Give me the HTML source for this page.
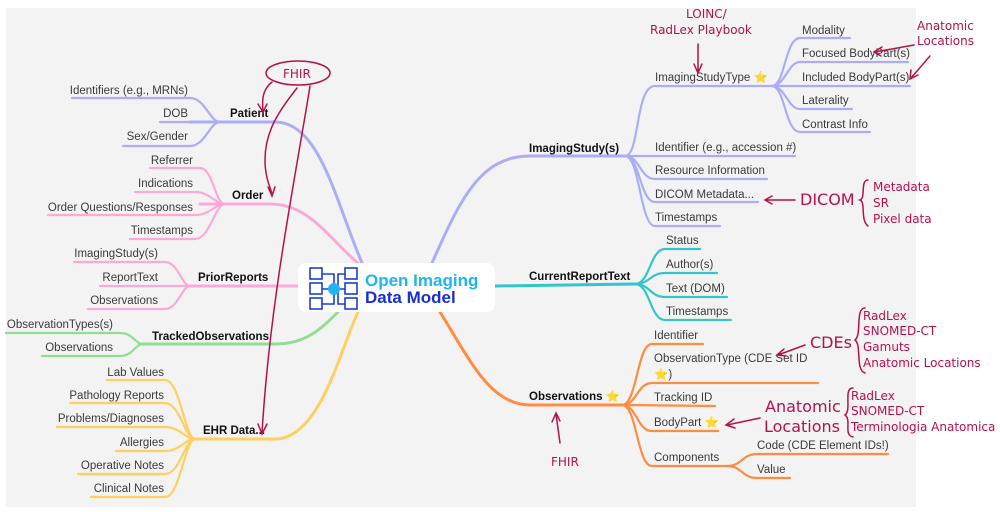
<!DOCTYPE html>
<html><head><meta charset="utf-8"><style>
html,body{margin:0;padding:0;background:#fff;}
svg{display:block;}
text{font-family:"Liberation Sans","DejaVu Sans",sans-serif;font-size:11.5px;fill:#3a3a3a;}
.b{font-weight:bold;fill:#111;}
.r{text-anchor:end;}
.h{font-family:"DejaVu Sans","Liberation Sans",sans-serif;fill:#b5114f;font-size:12px;}
path{fill:none;stroke-linecap:round;}
.pu{stroke:#adadf7;stroke-width:2.2}
.pk{stroke:#fbaad8;stroke-width:2.2}
.gr{stroke:#93dc93;stroke-width:2.2}
.ye{stroke:#ffcf60;stroke-width:2.2}
.cy{stroke:#33c5c9;stroke-width:2.2}
.or{stroke:#ff8c42;stroke-width:2.2}
.an{stroke:#b5114f;stroke-width:1.5}
</style></head><body>
<svg width="1000" height="512" viewBox="0 0 1000 512">
<rect x="6" y="8" width="910" height="499" fill="#f3f3f3"/>

<path class="pu" d="M190,122 L275,122 C320,122 335,200 362,263" style="stroke-width:3"/>
<path class="pk" d="M200,204 L270,204 C310,204 330,240 358,263" style="stroke-width:3"/>
<path class="pk" d="M190,286 L298,286" style="stroke-width:3"/>
<path class="gr" d="M143,344 L275,344 C305,344 320,330 338,312" style="stroke-width:3"/>
<path class="ye" d="M195,439 L275,439 C320,439 340,350 358,312" style="stroke-width:3"/>
<path class="pu" d="M432,263 C460,200 480,156 530,156 L625,156" style="stroke-width:3"/>
<path class="cy" d="M495,286 L635,284" style="stroke-width:3"/>
<path class="or" d="M440,312 C470,360 490,405 530,405 L622,405" style="stroke-width:3"/>

<path class="pu" d="M72,98 L190,98 C205,98 210,122 220,122"/>
<path class="pu" d="M160,122 L220,122"/>
<path class="pu" d="M123,146 L190,146 C205,146 210,122 220,122"/>
<path class="pk" d="M150,168 L200,168 C213,168 215,204 225,204"/>
<path class="pk" d="M135,192 L195,192 C210,192 215,204 225,204"/>
<path class="pk" d="M48,215 L195,215 C210,215 215,204 225,204"/>
<path class="pk" d="M130,239 L195,239 C210,239 215,204 225,204"/>
<path class="pk" d="M74,262 L165,262 C178,262 182,286 190,286"/>
<path class="pk" d="M100,286 L190,286"/>
<path class="pk" d="M88,309 L165,309 C178,309 182,286 190,286"/>
<path class="gr" d="M6,333 L120,333 C133,333 135,344 143,344"/>
<path class="gr" d="M42,356 L120,356 C133,356 135,344 143,344"/>
<path class="ye" d="M107,380 L165,380 C180,380 185,439 195,439"/>
<path class="ye" d="M70,403 L165,403 C180,403 185,439 195,439"/>
<path class="ye" d="M57,427 L165,427 C180,427 185,439 195,439"/>
<path class="ye" d="M116,451 L165,451 C180,451 185,439 195,439"/>
<path class="ye" d="M78,474 L165,474 C180,474 185,439 195,439"/>
<path class="ye" d="M91,497 L165,497 C180,497 185,439 195,439"/>

<path class="pu" d="M625,156 C640,156 635,86 655,86 L772,86"/>
<path class="pu" d="M625,156 L795,156"/>
<path class="pu" d="M625,156 C640,156 640,179 655,179 L767,179"/>
<path class="pu" d="M625,156 C640,156 640,202 655,202 L758,202"/>
<path class="pu" d="M625,156 C640,156 640,226 655,226 L720,226"/>
<path class="pu" d="M772,86 C785,86 785,38 800,38 L850,38"/>
<path class="pu" d="M772,86 C785,86 788,62 800,62 L908,62"/>
<path class="pu" d="M772,86 L910,86"/>
<path class="pu" d="M772,86 C785,86 788,109 800,109 L852,109"/>
<path class="pu" d="M772,86 C785,86 785,132 800,132 L870,132"/>
<path class="cy" d="M635,284 C650,284 650,249 665,249 L700,249"/>
<path class="cy" d="M635,284 C650,284 650,273 665,273 L717,273"/>
<path class="cy" d="M635,284 C650,284 650,297 665,297 L727,297"/>
<path class="cy" d="M635,284 C650,284 650,320 665,320 L731,320"/>
<path class="or" d="M622,405 C637,405 637,344 652,344 L703,344"/>
<path class="or" d="M622,405 C637,405 637,383 652,383 L818,383"/>
<path class="or" d="M622,405 L715,406"/>
<path class="or" d="M622,405 C637,405 637,431 652,431 L718,431"/>
<path class="or" d="M622,405 C637,405 637,466 652,466 L727,466"/>
<path class="or" d="M727,466 C742,466 742,454 757,454 L888,454"/>
<path class="or" d="M727,466 C742,466 742,478 757,478 L790,478"/>

<rect x="298" y="263" width="197" height="49" rx="8" fill="#fff"/>
<g stroke="#1b3fd6" stroke-width="1.6" fill="none">
<rect x="310" y="268" width="12" height="11"/><rect x="310" y="283" width="12" height="11"/><rect x="310" y="298" width="12" height="11"/>
<rect x="345" y="268" width="12" height="11"/><rect x="345" y="283" width="12" height="11"/><rect x="345" y="298" width="12" height="11"/>
<path d="M322,274 H334 V304 H322 M322,289 H345 M345,274 H338 V304 H345"/>
</g>
<circle cx="334" cy="289" r="6" fill="#22b5f0"/>
<text x="365" y="286" style="font-size:17px;font-weight:bold;fill:#1fb6ee">Open Imaging</text>
<text x="365" y="303" style="font-size:17px;font-weight:bold;fill:#1a2fd0">Data Model</text>

<text class="b" x="230" y="117">Patient</text>
<text class="r" x="188" y="94">Identifiers (e.g., MRNs)</text>
<text class="r" x="188" y="117">DOB</text>
<text class="r" x="188" y="140">Sex/Gender</text>
<text class="b" x="232" y="199">Order</text>
<text class="r" x="193" y="164">Referrer</text>
<text class="r" x="193" y="187">Indications</text>
<text class="r" x="193" y="211">Order Questions/Responses</text>
<text class="r" x="193" y="234">Timestamps</text>
<text class="b" x="198" y="281">PriorReports</text>
<text class="r" x="158" y="257">ImagingStudy(s)</text>
<text class="r" x="158" y="281">ReportText</text>
<text class="r" x="158" y="304">Observations</text>
<text class="b" x="152" y="340">TrackedObservations</text>
<text class="r" x="113" y="328">ObservationTypes(s)</text>
<text class="r" x="113" y="351">Observations</text>
<text class="b" x="203" y="434">EHR Data...</text>
<text class="r" x="164" y="376">Lab Values</text>
<text class="r" x="164" y="399">Pathology Reports</text>
<text class="r" x="164" y="422">Problems/Diagnoses</text>
<text class="r" x="164" y="446">Allergies</text>
<text class="r" x="164" y="469">Operative Notes</text>
<text class="r" x="164" y="492">Clinical Notes</text>

<text class="b" x="529" y="152">ImagingStudy(s)</text>
<text x="655" y="81">ImagingStudyType ⭐</text>
<text x="802" y="34">Modality</text>
<text x="802" y="57">Focused BodyPart(s)</text>
<text x="802" y="81">Included BodyPart(s)</text>
<text x="802" y="104">Laterality</text>
<text x="802" y="128">Contrast Info</text>
<text x="655" y="151">Identifier (e.g., accession #)</text>
<text x="655" y="174">Resource Information</text>
<text x="655" y="198">DICOM Metadata...</text>
<text x="655" y="221">Timestamps</text>
<text class="b" x="529" y="280">CurrentReportText</text>
<text x="666" y="244">Status</text>
<text x="666" y="268">Author(s)</text>
<text x="666" y="292">Text (DOM)</text>
<text x="666" y="315">Timestamps</text>
<text class="b" x="529" y="400">Observations ⭐</text>
<text x="654" y="339">Identifier</text>
<text x="654" y="362">ObservationType (CDE Set ID</text>
<text x="654" y="378">⭐)</text>
<text x="654" y="401">Tracking ID</text>
<text x="654" y="426">BodyPart ⭐</text>
<text x="654" y="461">Components</text>
<text x="757" y="449">Code (CDE Element IDs!)</text>
<text x="757" y="473">Value</text>

<ellipse cx="298" cy="73" rx="32" ry="12" fill="none" stroke="#b5114f" stroke-width="1.5"/>
<text class="h" x="283" y="78">FHIR</text>
<path class="an" d="M272,82 C262,90 262,100 263,112 M258,104 L263,112 L267,104"/>
<path class="an" d="M297,88 C280,110 265,130 265,160 C265,180 272,190 272,195 M268,187 L272,196 L275,187"/>
<path class="an" d="M310,86 C295,180 270,300 262,433 M258,424 L262,434 L267,424"/>
<text class="h" x="686" y="18">LOINC/</text>
<text class="h" x="650" y="34">RadLex Playbook</text>
<path class="an" d="M698,44 L698,72 M694,64 L698,73 L702,64"/>
<text class="h" x="917" y="30">Anatomic</text>
<text class="h" x="917" y="45">Locations</text>
<path class="an" d="M914,45 L875,52 M882,47 L874,52 L881,56"/>
<path class="an" d="M930,56 L911,78 M911,70 L910,79 L918,75"/>
<path class="an" d="M795,200 L765,200 M772,196 L765,200 L772,204"/>
<text class="h" x="800" y="205" style="font-size:16px">DICOM</text>
<path class="an" d="M868,180 C860,180 866,198 860,200 C866,202 860,220 868,226"/>
<text class="h" x="873" y="191">Metadata</text>
<text class="h" x="873" y="207">SR</text>
<text class="h" x="873" y="223">Pixel data</text>
<text class="h" x="810" y="348" style="font-size:16px">CDEs</text>
<path class="an" d="M805,345 L778,355 M784,349 L777,355 L786,356"/>
<path class="an" d="M865,308 C855,308 862,335 855,340 C862,345 855,370 865,373"/>
<text class="h" x="863" y="320">RadLex</text>
<text class="h" x="863" y="335">SNOMED-CT</text>
<text class="h" x="863" y="351">Gamuts</text>
<text class="h" x="863" y="367">Anatomic Locations</text>
<text class="h" x="765" y="412" style="font-size:16px">Anatomic</text>
<text class="h" x="764" y="432" style="font-size:16px">Locations</text>
<path class="an" d="M760,418 L727,425 M734,419 L726,425 L735,428"/>
<path class="an" d="M853,388 C843,388 852,410 845,415 C852,420 843,435 853,437"/>
<text class="h" x="851" y="400">RadLex</text>
<text class="h" x="851" y="415">SNOMED-CT</text>
<text class="h" x="851" y="431">Terminologia Anatomica</text>
<path class="an" d="M560,443 L556,414 M552,422 L556,413 L560,421"/>
<text class="h" x="551" y="466">FHIR</text>
</svg>
</body></html>
